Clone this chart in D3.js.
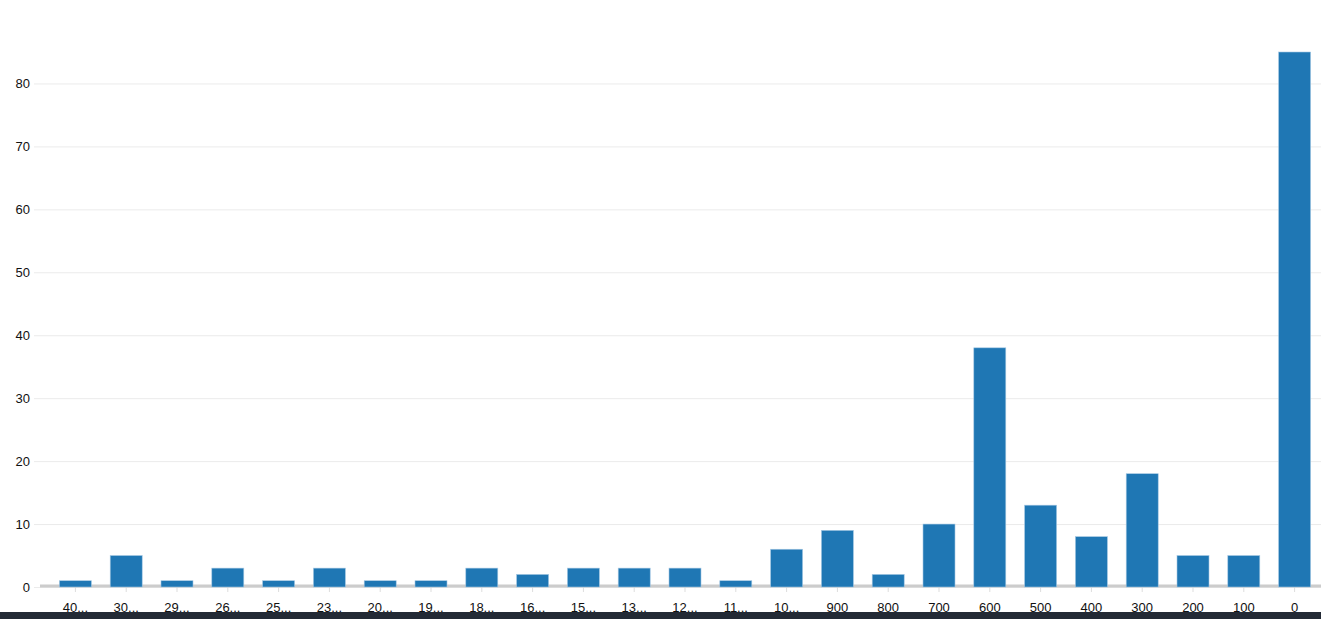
<!DOCTYPE html>
<html>
<head>
<meta charset="utf-8">
<script src="https://cdn.jsdelivr.net/npm/d3@7"></script>
<style>
  body { margin: 0; background: #fff; overflow: hidden; }
  .bottom-bar { position: absolute; left: 0; top: 612px; width: 1321px; height: 7px; background: #232a35; }
</style>
</head>
<body>
<div id="chart"></div>
<div class="bottom-bar"></div>
<script>
// categories as shown on the axis (long ones are cut by the chart)
var categories = ["40...", "30...", "29...", "26...", "25...", "23...", "20...", "19...", "18...", "16...",
                  "15...", "13...", "12...", "11...", "10...", "900", "800", "700", "600", "500",
                  "400", "300", "200", "100", "0"];
var counts = [1, 5, 1, 3, 1, 3, 1, 1, 3, 2,
              3, 3, 3, 1, 6, 9, 2, 10, 38, 13,
              8, 18, 5, 5, 85];
var yTicks = [0, 10, 20, 30, 40, 50, 60, 70, 80];

var w = 1321;
var h = 619;

var svg = d3.select("#chart")
  .append("svg")
  .attr("width", w)
  .attr("height", h)
  .style("font-family", "'Liberation Sans', Arial, sans-serif");

var data = categories.map(function(c, i){ return {cat: c, value: counts[i]}; });

// x scale
var x = d3.scaleBand()
  .domain(categories)
  .range([50, 1320])
  .paddingInner(0.37)
  .paddingOuter(0.185);

// y scale
var y = d3.scaleLinear()
  .domain([0, 85])
  .range([587, 52]);

// grid lines + y labels
var yAxis = svg.append("g")
  .attr("transform", "translate(34,0)")
  .call(d3.axisLeft(y).tickValues(yTicks).tickSize(-(w - 34)).tickPadding(4));
yAxis.select(".domain").remove();
yAxis.selectAll(".tick line").attr("stroke", "#ebebeb");
yAxis.selectAll(".tick text")
  .attr("fill", "#111")
  .style("font-size", "13px");

// x axis
var xAxis = svg.append("g")
  .attr("transform", "translate(0,587)")
  .call(d3.axisBottom(x).tickSize(5).tickSizeOuter(0).tickPadding(11));
xAxis.select(".domain").remove();
xAxis.selectAll(".tick line").attr("stroke", "#ddd");
xAxis.selectAll(".tick text")
  .attr("fill", "#111")
  .style("font-size", "13px");

// baseline
svg.append("line")
  .attr("x1", 40)
  .attr("x2", w)
  .attr("y1", y(0) - 1)
  .attr("y2", y(0) - 1)
  .attr("stroke", "#cccccc")
  .attr("stroke-width", 3);

// bars
svg.append("g")
  .selectAll("rect")
  .data(data)
  .enter()
  .append("rect")
    .attr("x", function(d){ return x(d.cat); })
    .attr("y", function(d){ return y(d.value); })
    .attr("width", x.bandwidth())
    .attr("height", function(d){ return y(0) - y(d.value); })
    .style("fill", "#1f77b4")
    .style("stroke", "#a6c8e3")
    .style("stroke-width", 0.6);
</script>
</body>
</html>
